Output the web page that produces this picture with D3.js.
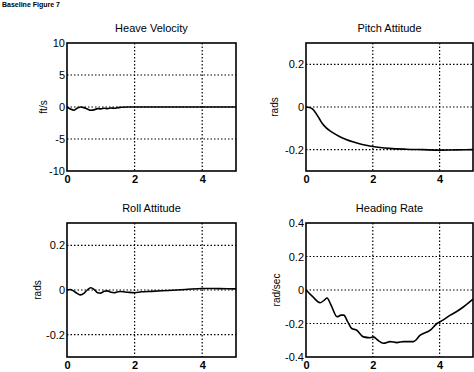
<!DOCTYPE html>
<html lang="en">
<head>
<meta charset="utf-8">
<title>Response plots</title>
<script src="https://d3js.org/d3.v7.min.js"></script>
<style>
    body { margin: 0; background: #fff; }
    svg { display: block; font-family: "Liberation Sans", Arial, sans-serif; }
</style>
</head>
<body>
<div id="chart"></div>
<script>

// data (time in seconds)
var heaveTime = [0, 0.1, 0.2, 0.3, 0.4, 0.5, 0.6, 0.7, 0.8, 0.9, 1.0, 1.1, 1.2, 1.3, 1.4, 1.5, 1.6, 1.8, 2.0, 3.0, 4.0, 5.0];
var heaveVel  = [0, -0.3, -0.5, -0.2, 0, -0.1, -0.3, -0.5, -0.45, -0.25, -0.3, -0.2, -0.25, -0.15, -0.2, -0.1, -0.05, 0, 0, 0, 0, 0];

var pitchTime = [0, 0.1, 0.2, 0.3, 0.4, 0.5, 0.6, 0.7, 0.8, 1.0, 1.2, 1.4, 1.6, 1.8, 2.0, 2.5, 3.0, 3.5, 4.0, 4.5, 5.0];
var pitchAtt  = [0, -0.002, -0.01, -0.03, -0.055, -0.08, -0.097, -0.11, -0.12, -0.138, -0.152, -0.163, -0.172, -0.179, -0.185, -0.194, -0.198, -0.2, -0.202, -0.201, -0.2];

var rollTime = [0, 0.1, 0.2, 0.3, 0.4, 0.5, 0.6, 0.7, 0.8, 0.9, 1.0, 1.1, 1.2, 1.3, 1.4, 1.5, 1.6, 1.8, 2.0, 2.2, 2.5, 3.0, 3.5, 4.0, 4.5, 5.0];
var rollAtt  = [0, 0.002, -0.005, -0.015, -0.022, -0.015, 0, 0.01, 0.003, -0.012, -0.014, -0.006, -0.004, -0.01, -0.012, -0.008, -0.007, -0.01, -0.012, -0.008, -0.006, -0.002, 0.002, 0.007, 0.006, 0.005];

var headTime = [0, 0.2, 0.42, 0.55, 0.63, 0.75, 0.93, 1.05, 1.13, 1.25, 1.37, 1.52, 1.72, 1.92, 2.02, 2.15, 2.32, 2.52, 2.72, 2.92, 3.22, 3.42, 3.72, 3.92, 4.1, 4.32, 4.5, 4.72, 5.0];
var headRate = [0, -0.04, -0.076, -0.06, -0.048, -0.09, -0.16, -0.15, -0.15, -0.19, -0.23, -0.24, -0.28, -0.285, -0.28, -0.3, -0.318, -0.308, -0.314, -0.308, -0.308, -0.27, -0.24, -0.2, -0.18, -0.15, -0.13, -0.1, -0.055];

var xTicks = [0, 2, 4];
var heaveTicks = [-10, -5, 0, 5, 10];
var attTicks = [-0.2, 0, 0.2];
var headTicks = [-0.4, -0.2, 0, 0.2, 0.4];

var width = 474, height = 372;

var svg = d3.select('#chart')
    .append('svg')
    .attr('width', width)
    .attr('height', height);

// small header left over from the scan
svg.append('text')
    .attr('x', 2)
    .attr('y', 7)
    .attr('font-size', 7)
    .attr('font-weight', 'bold')
    .text('Baseline Figure 7');

function fmt(d) { return String(+d.toFixed(1)); }

function drawPanel(p) {
    var x = d3.scaleLinear().domain([0, 5]).range([p.left, p.right]);
    var y = d3.scaleLinear().domain(p.yDomain).range([p.bottom, p.top]);
    var g = svg.append('g');

    // dotted grid
    g.selectAll('.vgrid')
        .data(xTicks.filter(function(d) { return d > 0; }))
        .enter().append('line')
        .attr('x1', function(d) { return x(d); })
        .attr('x2', function(d) { return x(d); })
        .attr('y1', p.top).attr('y2', p.bottom)
        .attr('stroke', '#000').attr('stroke-width', 1.2)
        .attr('stroke-dasharray', '1.5,2');
    g.selectAll('.hgrid')
        .data(p.ticks.filter(function(d) { return d > p.yDomain[0] && d < p.yDomain[1]; }))
        .enter().append('line')
        .attr('x1', p.left).attr('x2', p.right)
        .attr('y1', function(d) { return y(d); })
        .attr('y2', function(d) { return y(d); })
        .attr('stroke', '#000').attr('stroke-width', 1.2)
        .attr('stroke-dasharray', '1.5,2');

    // axes (labels only, MATLAB style)
    var yAxis = d3.axisLeft(y).tickValues(p.ticks).tickSize(0).tickPadding(2).tickFormat(fmt);
    g.append('g').attr('transform', 'translate(' + p.left + ',0)').call(yAxis)
        .call(function(a) { a.select('.domain').remove(); })
        .selectAll('text').attr('font-size', 11).attr('font-family', 'Liberation Sans, Arial, sans-serif');
    var xAxis = d3.axisBottom(x).tickValues(xTicks).tickSize(0).tickPadding(4).tickFormat(fmt);
    g.append('g').attr('transform', 'translate(0,' + p.bottom + ')').call(xAxis)
        .call(function(a) { a.select('.domain').remove(); })
        .selectAll('text').attr('font-size', 11).attr('font-weight', 'bold')
        .attr('font-family', 'Liberation Sans, Arial, sans-serif');

    // data line
    var line = d3.line()
        .x(function(d, i) { return x(p.t[i]); })
        .y(function(d) { return y(d); })
        .curve(d3.curveMonotoneX);
    g.append('path')
        .datum(p.v)
        .attr('d', line)
        .attr('fill', 'none')
        .attr('stroke', '#000')
        .attr('stroke-width', 1.6);

    // frame
    g.append('rect')
        .attr('x', p.left).attr('y', p.top)
        .attr('width', p.right - p.left).attr('height', p.bottom - p.top)
        .attr('fill', 'none').attr('stroke', '#000').attr('stroke-width', 1.6);

    g.append('text')
        .attr('x', (p.left + p.right) / 2)
        .attr('y', p.top - 11)
        .attr('text-anchor', 'middle')
        .attr('font-size', 11)
        .text(p.title);

    g.append('text')
        .attr('transform', 'translate(' + p.labelX + ',' + y(0) + ') rotate(-90)')
        .attr('text-anchor', 'middle')
        .attr('dy', '0.35em')
        .attr('font-size', 10)
        .text(p.label);
}

drawPanel({ title: 'Heave Velocity', label: 'ft/s', t: heaveTime, v: heaveVel,
    yDomain: [-10, 10], ticks: heaveTicks, left: 67, right: 236, top: 43, bottom: 171, labelX: 43 });
drawPanel({ title: 'Pitch Attitude', label: 'rads', t: pitchTime, v: pitchAtt,
    yDomain: [-0.3, 0.3], ticks: attTicks, left: 306, right: 473, top: 43, bottom: 171, labelX: 274 });
drawPanel({ title: 'Roll Attitude', label: 'rads', t: rollTime, v: rollAtt,
    yDomain: [-0.3, 0.3], ticks: attTicks, left: 67, right: 236, top: 223, bottom: 357, labelX: 37 });
drawPanel({ title: 'Heading Rate', label: 'rad/sec', t: headTime, v: headRate,
    yDomain: [-0.4, 0.4], ticks: headTicks, left: 306, right: 473, top: 223, bottom: 357, labelX: 276 });

</script>
</body>
</html>
